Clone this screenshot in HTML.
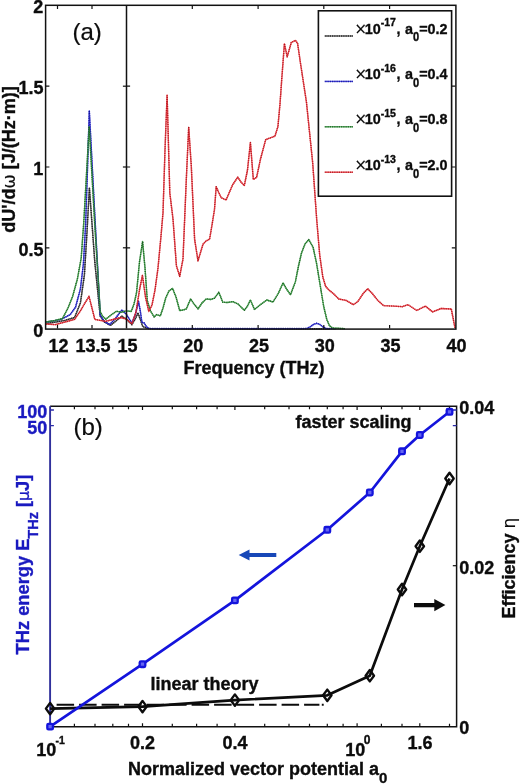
<!DOCTYPE html>
<html lang="en"><head><meta charset="utf-8"><title>Figure</title>
<style>
html,body{margin:0;padding:0;background:#fff;}
body{width:520px;height:784px;overflow:hidden;}
svg{display:block;}
text{font-family:"Liberation Sans",sans-serif;font-weight:bold;fill:#0c0c0c;stroke:#0c0c0c;stroke-width:.35px;}
.tk{font-size:18px;}
.lb{font-size:18px;}
.lg{font-size:15.5px;}
.pn{font-size:24px;font-weight:normal;stroke-width:.2px;}
.sym{font-family:"DejaVu Sans","Liberation Sans",sans-serif;font-weight:normal;stroke-width:.1px;}
.bl{fill:#1a1ac0;stroke:#1a1ac0;}
.ax{stroke:#111;stroke-width:1.5;fill:none;}
.t{stroke:#111;stroke-width:1.2;fill:none;}
.cv{fill:none;stroke-width:1.35;stroke-linejoin:round;stroke-opacity:.88;}
.cd{fill:none;stroke-width:1.5;stroke-linejoin:round;stroke-dasharray:0.8 1;}
</style></head><body>
<svg width="520" height="784" viewBox="0 0 520 784">
<rect width="520" height="784" fill="#fff"/>
<g id="plot-a">
<path class="cv" stroke="#555" d="M46.7 323.3 L56.0 322.0 L65.0 320.4 L74.6 317.5 L80.4 303.0 L84.4 275.0 L87.0 232.0 L89.4 188.0 L94.8 262.0 L100.2 316.0 L104.5 322.0 L110.4 325.4 L116.0 321.0 L121.9 316.2 L126.5 319.2 L131.9 324.6 L135.5 318.5 L138.0 313.0 L140.5 320.0 L142.7 326.4 L146.0 328.0 L150.0 328.7 L200.0 328.8 L330.0 328.8"/>
<path class="cd" stroke="#111" d="M46.7 323.3 L56.0 322.0 L65.0 320.4 L74.6 317.5 L80.4 303.0 L84.4 275.0 L87.0 232.0 L89.4 188.0 L94.8 262.0 L100.2 316.0 L104.5 322.0 L110.4 325.4 L116.0 321.0 L121.9 316.2 L126.5 319.2 L131.9 324.6 L135.5 318.5 L138.0 313.0 L140.5 320.0 L142.7 326.4 L146.0 328.0 L150.0 328.7 L200.0 328.8 L330.0 328.8"/>
<path class="cv" stroke="#3a3ae0" d="M46.7 322.0 L54.0 320.8 L61.0 319.4 L70.2 314.6 L75.6 307.0 L80.4 289.0 L83.4 264.0 L85.6 225.0 L87.2 178.0 L89.3 110.7 L94.8 215.0 L100.2 315.0 L104.0 321.0 L109.6 324.6 L115.0 319.0 L121.9 310.0 L126.5 314.6 L131.9 323.0 L135.5 314.0 L138.5 301.5 L140.3 311.0 L141.9 322.3 L144.2 323.0 L146.5 326.8 L148.8 328.4 L200.0 328.6 L300.0 328.6 L307.0 328.3 L310.5 326.6 L313.5 324.4 L316.7 323.3 L319.8 324.4 L322.5 326.6 L326.0 328.4 L336.0 328.7"/>
<path class="cd" stroke="#10109a" d="M46.7 322.0 L54.0 320.8 L61.0 319.4 L70.2 314.6 L75.6 307.0 L80.4 289.0 L83.4 264.0 L85.6 225.0 L87.2 178.0 L89.3 110.7 L94.8 215.0 L100.2 315.0 L104.0 321.0 L109.6 324.6 L115.0 319.0 L121.9 310.0 L126.5 314.6 L131.9 323.0 L135.5 314.0 L138.5 301.5 L140.3 311.0 L141.9 322.3 L144.2 323.0 L146.5 326.8 L148.8 328.4 L200.0 328.6 L300.0 328.6 L307.0 328.3 L310.5 326.6 L313.5 324.4 L316.7 323.3 L319.8 324.4 L322.5 326.6 L326.0 328.4 L336.0 328.7"/>
<path class="cv" stroke="#3aa544" d="M46.0 322.0 L55.0 320.5 L62.5 318.5 L68.0 308.0 L72.6 296.5 L77.4 279.0 L81.2 258.0 L83.8 222.0 L85.6 190.0 L89.2 126.6 L94.8 225.0 L100.2 311.5 L102.5 316.0 L105.8 319.2 L111.0 315.0 L116.5 311.2 L121.0 312.3 L126.5 310.8 L131.2 311.5 L134.0 304.0 L136.5 293.0 L139.5 262.0 L142.6 241.5 L145.0 268.0 L147.3 300.8 L150.5 311.0 L154.2 317.0 L156.5 314.6 L160.4 315.8 L163.0 308.0 L165.8 297.7 L169.0 291.0 L172.5 288.3 L176.0 297.0 L179.7 310.5 L183.0 310.0 L186.3 308.9 L190.6 298.9 L194.0 304.0 L198.0 308.9 L202.0 303.0 L206.2 298.9 L210.5 299.5 L214.5 298.2 L218.8 292.3 L222.8 302.2 L227.5 302.5 L232.8 301.6 L238.0 304.0 L244.3 310.3 L247.5 306.0 L250.4 300.0 L254.5 309.5 L260.0 305.0 L266.8 300.0 L273.0 302.0 L278.0 294.0 L283.1 282.9 L286.5 289.0 L290.5 294.7 L295.4 281.7 L298.5 266.0 L301.5 253.0 L305.0 244.0 L308.7 239.6 L313.0 247.0 L316.5 263.0 L319.8 283.0 L323.7 306.5 L326.8 319.5 L329.4 325.6 L332.5 328.0 L345.0 328.7"/>
<path class="cd" stroke="#1c5a22" d="M46.0 322.0 L55.0 320.5 L62.5 318.5 L68.0 308.0 L72.6 296.5 L77.4 279.0 L81.2 258.0 L83.8 222.0 L85.6 190.0 L89.2 126.6 L94.8 225.0 L100.2 311.5 L102.5 316.0 L105.8 319.2 L111.0 315.0 L116.5 311.2 L121.0 312.3 L126.5 310.8 L131.2 311.5 L134.0 304.0 L136.5 293.0 L139.5 262.0 L142.6 241.5 L145.0 268.0 L147.3 300.8 L150.5 311.0 L154.2 317.0 L156.5 314.6 L160.4 315.8 L163.0 308.0 L165.8 297.7 L169.0 291.0 L172.5 288.3 L176.0 297.0 L179.7 310.5 L183.0 310.0 L186.3 308.9 L190.6 298.9 L194.0 304.0 L198.0 308.9 L202.0 303.0 L206.2 298.9 L210.5 299.5 L214.5 298.2 L218.8 292.3 L222.8 302.2 L227.5 302.5 L232.8 301.6 L238.0 304.0 L244.3 310.3 L247.5 306.0 L250.4 300.0 L254.5 309.5 L260.0 305.0 L266.8 300.0 L273.0 302.0 L278.0 294.0 L283.1 282.9 L286.5 289.0 L290.5 294.7 L295.4 281.7 L298.5 266.0 L301.5 253.0 L305.0 244.0 L308.7 239.6 L313.0 247.0 L316.5 263.0 L319.8 283.0 L323.7 306.5 L326.8 319.5 L329.4 325.6 L332.5 328.0 L345.0 328.7"/>
<path class="cv" stroke="#f04048" d="M46.0 324.0 L55.4 324.6 L65.0 322.0 L74.6 319.4 L80.4 310.8 L85.0 303.0 L89.0 296.3 L94.8 319.4 L105.4 321.3 L113.0 319.5 L120.8 317.5 L126.5 319.2 L132.0 323.8 L136.0 312.0 L139.5 290.0 L142.4 275.4 L145.5 297.0 L148.8 311.5 L152.0 305.0 L155.0 290.0 L158.0 268.0 L161.0 236.0 L163.0 212.7 L165.0 150.0 L167.1 95.0 L169.8 192.8 L173.0 219.0 L176.4 265.7 L179.7 276.4 L183.0 259.0 L186.3 179.5 L188.7 127.4 L191.3 166.2 L194.6 239.2 L198.0 260.8 L203.0 244.2 L206.0 241.0 L209.6 239.2 L212.0 225.0 L214.5 209.4 L216.2 186.8 L218.5 192.0 L221.2 197.7 L226.1 200.0 L229.5 192.0 L232.8 184.5 L237.7 177.2 L241.0 182.0 L244.3 185.6 L247.5 170.0 L250.4 142.6 L253.3 179.4 L256.6 177.4 L260.5 159.0 L265.7 139.6 L274.9 136.2 L277.9 126.7 L280.0 104.0 L281.6 81.3 L284.4 43.7 L287.2 56.8 L291.3 42.5 L295.4 40.4 L297.6 43.5 L300.3 62.0 L302.0 73.0 L306.4 101.8 L312.7 163.0 L316.7 219.5 L319.7 255.0 L322.8 277.0 L325.6 286.2 L328.5 289.6 L333.0 293.2 L338.8 299.0 L346.0 300.4 L353.3 304.7 L357.6 301.8 L363.4 293.2 L367.7 288.8 L372.0 293.2 L377.8 300.4 L383.5 305.6 L393.6 306.1 L402.3 306.7 L408.0 304.7 L416.7 310.5 L425.4 306.1 L432.6 311.9 L441.2 308.5 L451.3 309.0 L455.0 327.8"/>
<path class="cd" stroke="#b01018" d="M46.0 324.0 L55.4 324.6 L65.0 322.0 L74.6 319.4 L80.4 310.8 L85.0 303.0 L89.0 296.3 L94.8 319.4 L105.4 321.3 L113.0 319.5 L120.8 317.5 L126.5 319.2 L132.0 323.8 L136.0 312.0 L139.5 290.0 L142.4 275.4 L145.5 297.0 L148.8 311.5 L152.0 305.0 L155.0 290.0 L158.0 268.0 L161.0 236.0 L163.0 212.7 L165.0 150.0 L167.1 95.0 L169.8 192.8 L173.0 219.0 L176.4 265.7 L179.7 276.4 L183.0 259.0 L186.3 179.5 L188.7 127.4 L191.3 166.2 L194.6 239.2 L198.0 260.8 L203.0 244.2 L206.0 241.0 L209.6 239.2 L212.0 225.0 L214.5 209.4 L216.2 186.8 L218.5 192.0 L221.2 197.7 L226.1 200.0 L229.5 192.0 L232.8 184.5 L237.7 177.2 L241.0 182.0 L244.3 185.6 L247.5 170.0 L250.4 142.6 L253.3 179.4 L256.6 177.4 L260.5 159.0 L265.7 139.6 L274.9 136.2 L277.9 126.7 L280.0 104.0 L281.6 81.3 L284.4 43.7 L287.2 56.8 L291.3 42.5 L295.4 40.4 L297.6 43.5 L300.3 62.0 L302.0 73.0 L306.4 101.8 L312.7 163.0 L316.7 219.5 L319.7 255.0 L322.8 277.0 L325.6 286.2 L328.5 289.6 L333.0 293.2 L338.8 299.0 L346.0 300.4 L353.3 304.7 L357.6 301.8 L363.4 293.2 L367.7 288.8 L372.0 293.2 L377.8 300.4 L383.5 305.6 L393.6 306.1 L402.3 306.7 L408.0 304.7 L416.7 310.5 L425.4 306.1 L432.6 311.9 L441.2 308.5 L451.3 309.0 L455.0 327.8"/>
<rect class="ax" x="45.6" y="5.3" width="410.3" height="323.8"/>
<line class="ax" x1="126.5" y1="5.5" x2="126.5" y2="328.5"/>
<path class="t" d="M45.8 247.8 h3.6 M126.5 247.8 h3.6 M455.4 247.8 h-3.6"/>
<path class="t" d="M126.5 247.8 h-3.6"/>
<path class="t" d="M45.8 167.0 h3.6 M126.5 167.0 h3.6 M455.4 167.0 h-3.6"/>
<path class="t" d="M126.5 167.0 h-3.6"/>
<path class="t" d="M45.8 86.2 h3.6 M126.5 86.2 h3.6 M455.4 86.2 h-3.6"/>
<path class="t" d="M126.5 86.2 h-3.6"/>
<path class="t" d="M57.5 328.5 v-3.6 M57.5 5.5 v3.6"/>
<path class="t" d="M92.0 328.5 v-3.6 M92.0 5.5 v3.6"/>
<path class="t" d="M192.3 328.5 v-3.6 M192.3 5.5 v3.6"/>
<path class="t" d="M258.1 328.5 v-3.6 M258.1 5.5 v3.6"/>
<path class="t" d="M323.8 328.5 v-3.6 M323.8 5.5 v3.6"/>
<path class="t" d="M389.6 328.5 v-3.6 M389.6 5.5 v3.6"/>
<text class="tk" x="43.2" y="337.1" text-anchor="end">0</text>
<text class="tk" x="43.5" y="255.6" text-anchor="end">0.5</text>
<text class="tk" x="43.2" y="174.8" text-anchor="end">1</text>
<text class="tk" x="43.5" y="94.0" text-anchor="end">1.5</text>
<text class="tk" x="43.2" y="13.3" text-anchor="end">2</text>
<text class="tk" x="58.5" y="352.3" text-anchor="middle">12</text>
<text class="tk" x="93.0" y="352.3" text-anchor="middle">13.5</text>
<text class="tk" x="127.5" y="352.3" text-anchor="middle">15</text>
<text class="tk" x="193.3" y="352.3" text-anchor="middle">20</text>
<text class="tk" x="259.1" y="352.3" text-anchor="middle">25</text>
<text class="tk" x="324.8" y="352.3" text-anchor="middle">30</text>
<text class="tk" x="390.6" y="352.3" text-anchor="middle">35</text>
<text class="tk" x="456.4" y="352.3" text-anchor="middle">40</text>
<text class="lb" x="254" y="373.6" text-anchor="middle">Frequency (THz)</text>
<text class="lb" style="font-size:18px" transform="translate(14.8 159.6) rotate(-90)" text-anchor="middle">dU'/d<tspan class="sym" font-size="17">ω</tspan> [J/(Hz·m)]</text>
<text class="pn" x="72.5" y="40">(a)</text>
<rect x="318.4" y="10.8" width="133.2" height="185.4" fill="#fff" stroke="#111" stroke-width="1.6"/>
<path class="cv" stroke="#555" d="M324.8 36.0 H353"/>
<path class="cd" stroke="#111" d="M324.8 36.0 H353"/>
<text class="lg" transform="translate(354.4 33.6) scale(0.928 1)"><tspan class="sym" font-size="16">×</tspan><tspan dx="-2.3">10</tspan><tspan font-size="11.4" dy="-7.2">-17</tspan><tspan dy="7.2" dx="0.7">,</tspan><tspan dx="0.4"> a</tspan><tspan font-size="12" dy="7.8">0</tspan><tspan dy="-7.8">=0.2</tspan></text>
<path class="cv" stroke="#3a3ae0" d="M324.8 81.4 H353"/>
<path class="cd" stroke="#10109a" d="M324.8 81.4 H353"/>
<text class="lg" transform="translate(354.4 79.0) scale(0.928 1)"><tspan class="sym" font-size="16">×</tspan><tspan dx="-2.3">10</tspan><tspan font-size="11.4" dy="-7.2">-16</tspan><tspan dy="7.2" dx="0.7">,</tspan><tspan dx="0.4"> a</tspan><tspan font-size="12" dy="7.8">0</tspan><tspan dy="-7.8">=0.4</tspan></text>
<path class="cv" stroke="#3aa544" d="M324.8 126.8 H353"/>
<path class="cd" stroke="#1c5a22" d="M324.8 126.8 H353"/>
<text class="lg" transform="translate(354.4 124.4) scale(0.928 1)"><tspan class="sym" font-size="16">×</tspan><tspan dx="-2.3">10</tspan><tspan font-size="11.4" dy="-7.2">-15</tspan><tspan dy="7.2" dx="0.7">,</tspan><tspan dx="0.4"> a</tspan><tspan font-size="12" dy="7.8">0</tspan><tspan dy="-7.8">=0.8</tspan></text>
<path class="cv" stroke="#f04048" d="M324.8 172.2 H353"/>
<path class="cd" stroke="#b01018" d="M324.8 172.2 H353"/>
<text class="lg" transform="translate(354.4 169.8) scale(0.928 1)"><tspan class="sym" font-size="16">×</tspan><tspan dx="-2.3">10</tspan><tspan font-size="11.4" dy="-7.2">-13</tspan><tspan dy="7.2" dx="0.7">,</tspan><tspan dx="0.4"> a</tspan><tspan font-size="12" dy="7.8">0</tspan><tspan dy="-7.8">=2.0</tspan></text>
</g>
<g id="plot-b">
<path d="M56.6 704.7 H319.4 M321.8 704.7 h1.9" stroke="#0c0c0c" stroke-width="2.1" stroke-dasharray="17.5 5" fill="none"/>
<path class="ax" d="M50.1 406.3 H456.6 V726.8 H50.1"/>
<line x1="50.1" y1="406.3" x2="50.1" y2="726.8" stroke="#30309c" stroke-width="1.9"/>
<path class="t" d="M74.4 726.8 v-3.0 M74.4 406.3 v3.0"/>
<path class="t" d="M95.0 726.8 v-3.0 M95.0 406.3 v3.0"/>
<path class="t" d="M112.8 726.8 v-3.0 M112.8 406.3 v3.0"/>
<path class="t" d="M128.5 726.8 v-3.0 M128.5 406.3 v3.0"/>
<path class="t" d="M142.5 726.8 v-3.6 M142.5 406.3 v3.6"/>
<path class="t" d="M172.3 726.8 v-3.0 M172.3 406.3 v3.0"/>
<path class="t" d="M196.6 726.8 v-3.0 M196.6 406.3 v3.0"/>
<path class="t" d="M217.1 726.8 v-3.0 M217.1 406.3 v3.0"/>
<path class="t" d="M234.9 726.8 v-3.6 M234.9 406.3 v3.6"/>
<path class="t" d="M264.7 726.8 v-3.0 M264.7 406.3 v3.0"/>
<path class="t" d="M289.0 726.8 v-3.0 M289.0 406.3 v3.0"/>
<path class="t" d="M309.5 726.8 v-3.0 M309.5 406.3 v3.0"/>
<path class="t" d="M327.3 726.8 v-3.0 M327.3 406.3 v3.0"/>
<path class="t" d="M343.1 726.8 v-3.0 M343.1 406.3 v3.0"/>
<path class="t" d="M357.1 726.8 v-3.6 M357.1 406.3 v3.6"/>
<path class="t" d="M381.4 726.8 v-3.0 M381.4 406.3 v3.0"/>
<path class="t" d="M402.0 726.8 v-3.0 M402.0 406.3 v3.0"/>
<path class="t" d="M419.8 726.8 v-3.6 M419.8 406.3 v3.6"/>
<path class="t" d="M449.5 726.8 v-3.0 M449.5 406.3 v3.0"/>
<path d="M50.1 410.0 h3.8 M456.6 410.0 h-3.8" stroke="#2a2aa8" stroke-width="1.3" fill="none"/>
<path d="M50.1 425.7 h3.8 M456.6 425.7 h-3.8" stroke="#2a2aa8" stroke-width="1.3" fill="none"/>
<path class="t" d="M456.6 565.7 h-3.8"/>
<path d="M50.1 708.6 L142.5 706.6 L234.9 700.1 L327.3 695.3 L369.8 675.7 L402.0 589.5 L419.8 546.2 L449.5 478.5" stroke="#0c0c0c" stroke-width="2.7" fill="none" stroke-linejoin="round"/>
<path d="M45.9 708.6 l4.2 -5.7 l4.2 5.7 l-4.2 5.7 z" stroke="#0c0c0c" stroke-width="2.4" stroke-linejoin="round" fill="none"/>
<path d="M138.3 706.6 l4.2 -5.7 l4.2 5.7 l-4.2 5.7 z" stroke="#0c0c0c" stroke-width="2.4" stroke-linejoin="round" fill="none"/>
<path d="M230.7 700.1 l4.2 -5.7 l4.2 5.7 l-4.2 5.7 z" stroke="#0c0c0c" stroke-width="2.4" stroke-linejoin="round" fill="none"/>
<path d="M323.1 695.3 l4.2 -5.7 l4.2 5.7 l-4.2 5.7 z" stroke="#0c0c0c" stroke-width="2.4" stroke-linejoin="round" fill="none"/>
<path d="M365.6 675.7 l4.2 -5.7 l4.2 5.7 l-4.2 5.7 z" stroke="#0c0c0c" stroke-width="2.4" stroke-linejoin="round" fill="none"/>
<path d="M397.8 589.5 l4.2 -5.7 l4.2 5.7 l-4.2 5.7 z" stroke="#0c0c0c" stroke-width="2.4" stroke-linejoin="round" fill="none"/>
<path d="M415.6 546.2 l4.2 -5.7 l4.2 5.7 l-4.2 5.7 z" stroke="#0c0c0c" stroke-width="2.4" stroke-linejoin="round" fill="none"/>
<path d="M445.3 478.5 l4.2 -5.7 l4.2 5.7 l-4.2 5.7 z" stroke="#0c0c0c" stroke-width="2.4" stroke-linejoin="round" fill="none"/>
<path d="M50.1 726.6 L142.5 664.2 L234.9 600.4 L327.3 529.8 L369.8 492.5 L402.0 451.3 L419.8 435.0 L449.5 411.8" stroke="#1414dc" stroke-width="2.7" fill="none" stroke-linejoin="round"/>
<rect x="47.3" y="723.8" width="5.6" height="5.6" rx="1.2" stroke="#1414dc" stroke-width="2.3" fill="#6464f2"/>
<rect x="139.7" y="661.4" width="5.6" height="5.6" rx="1.2" stroke="#1414dc" stroke-width="2.3" fill="#6464f2"/>
<rect x="232.1" y="597.6" width="5.6" height="5.6" rx="1.2" stroke="#1414dc" stroke-width="2.3" fill="#6464f2"/>
<rect x="324.5" y="527.0" width="5.6" height="5.6" rx="1.2" stroke="#1414dc" stroke-width="2.3" fill="#6464f2"/>
<rect x="367.0" y="489.7" width="5.6" height="5.6" rx="1.2" stroke="#1414dc" stroke-width="2.3" fill="#6464f2"/>
<rect x="399.2" y="448.5" width="5.6" height="5.6" rx="1.2" stroke="#1414dc" stroke-width="2.3" fill="#6464f2"/>
<rect x="417.0" y="432.2" width="5.6" height="5.6" rx="1.2" stroke="#1414dc" stroke-width="2.3" fill="#6464f2"/>
<rect x="446.7" y="409.0" width="5.6" height="5.6" rx="1.2" stroke="#1414dc" stroke-width="2.3" fill="#6464f2"/>
<path d="M276.3 553 H249.5 V549.5 L238.7 555 L249.5 560.5 V557 H276.3 Z" fill="#1848b8"/>
<path d="M414 603 H434.3 V598.9 L445.4 605.1 L434.3 611.3 V607.2 H414 Z" fill="#0c0c0c"/>
<text class="lb" x="295.5" y="428.3">faster scaling</text>
<text class="lb" x="150.5" y="689.8">linear theory</text>
<text class="pn" x="73.5" y="435">(b)</text>
<text class="tk bl" x="47.3" y="418" text-anchor="end">100</text>
<text class="tk bl" x="47.3" y="433.8" text-anchor="end">50</text>
<text class="tk" x="459.3" y="414.2">0.04</text>
<text class="tk" x="459.3" y="574.2">0.02</text>
<text class="tk" x="459.3" y="734.3">0</text>
<text class="tk" x="36.3" y="756.1">10<tspan font-size="10.5" dy="-12.3" dx="-0.8">-1</tspan></text>
<text class="tk" x="345.3" y="756.1">10<tspan font-size="12" dy="-12.6" dx="-1.6">0</tspan></text>
<text class="tk" x="142.5" y="749.2" text-anchor="middle">0.2</text>
<text class="tk" x="235" y="749.2" text-anchor="middle">0.4</text>
<text class="tk" x="420" y="749.2" text-anchor="middle">1.6</text>
<text class="lb" x="127.9" y="774.6">Normalized vector potential a<tspan font-size="15" dy="8.6">0</tspan></text>
<text class="lb bl" style="font-size:18.3px" transform="translate(29.2 564.6) rotate(-90)" text-anchor="middle">THz energy E<tspan font-size="14.5" dy="9.2">THz</tspan><tspan dy="-9.2"> [<tspan class="sym" font-size="15.5" style="stroke-width:.3px">μ</tspan>J]</tspan></text>
<text class="lb" transform="translate(514.8 568.2) rotate(-90)" text-anchor="middle">Efficiency <tspan class="sym" font-size="17">η</tspan></text>
</g>
</svg></body></html>
